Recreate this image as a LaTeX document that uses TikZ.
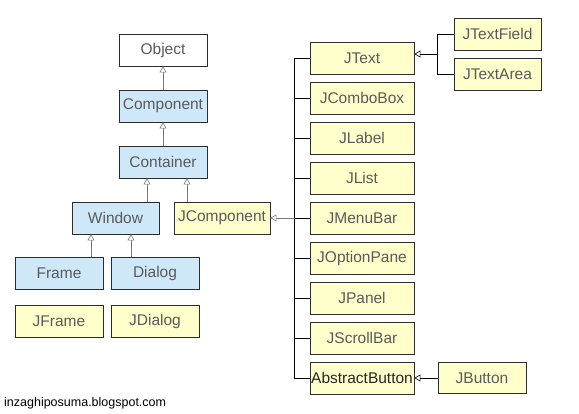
\documentclass[tikz,border=0pt]{standalone}
\usepackage{fontspec}
\setmainfont{Liberation Sans}
\usetikzlibrary{arrows.meta,calc}
\definecolor{bluefill}{RGB}{206,232,250}
\definecolor{yelfill}{RGB}{255,255,204}
\definecolor{boxline}{RGB}{45,45,45}
\definecolor{txt}{RGB}{90,90,90}
\definecolor{conn}{RGB}{120,120,120}
\begin{document}
\begin{tikzpicture}[x=1pt,y=-1pt,
  cls/.style={draw=boxline, line width=0.9pt, inner sep=0pt, minimum height=32pt,
    text=txt, font=\fontsize{15.5}{18}\selectfont},
  plainbox/.style={cls, fill=white, minimum width=88pt},
  awtbox/.style={cls, fill=bluefill},
  swingbox/.style={cls, fill=yelfill},
  inh/.style={-{Triangle[open, length=6pt, width=7pt, line width=0.6pt]}, line width=0.9pt},
  treeline/.style={draw=conn, line width=0.9pt},
  trunkline/.style={draw=black, line width=0.9pt}]
\useasboundingbox (0,0) rectangle (579,414);
\fill[white] (0,0) rectangle (579,414);

% left AWT tree
\node[plainbox] (obj) at (163,50) {Object};
\node[awtbox, minimum width=88pt] (comp) at (163,106) {Component};
\node[awtbox, minimum width=88pt] (cont) at (163,162) {Container};
\node[awtbox, minimum width=87pt] (window) at (115.5,218) {Window};
\node[swingbox, minimum width=96pt] (jcomp) at (222,218) {JComponent};
\node[awtbox, minimum width=88pt] (frame) at (59,273) {Frame};
\node[awtbox, minimum width=88pt] (dialog) at (155,273) {Dialog};
\node[swingbox, minimum width=88pt] (jframe) at (59,321) {JFrame};
\node[swingbox, minimum width=88pt] (jdialog) at (155,321) {JDialog};

% right column
\node[swingbox, minimum width=104pt] (jtext) at (362,58) {JText};
\node[swingbox, minimum width=104pt] (jcombo) at (362,98) {JComboBox};
\node[swingbox, minimum width=104pt] (jlabel) at (362,138) {JLabel};
\node[swingbox, minimum width=104pt] (jlist) at (362,178) {JList};
\node[swingbox, minimum width=104pt] (jmenubar) at (362,218) {JMenuBar};
\node[swingbox, minimum width=104pt] (joption) at (362,258) {JOptionPane};
\node[swingbox, minimum width=104pt] (jpanel) at (362,298) {JPanel};
\node[swingbox, minimum width=104pt] (jscroll) at (362,338) {JScrollBar};
\node[swingbox, minimum width=104pt, text=black!85] (abutton) at (362,378) {AbstractButton};

\node[swingbox, minimum width=87pt] (jtextfield) at (497.5,34) {JTextField};
\node[swingbox, minimum width=87pt] (jtextarea) at (497.5,74) {JTextArea};
\node[swingbox, minimum width=88pt, minimum height=31pt] (jbutton) at (482,378) {JButton};

\node[anchor=west, inner sep=0pt, font=\fontsize{12.5}{14}\selectfont] (credit) at (4,403) {inzaghiposuma.blogspot.com};

% AWT connectors
\draw[treeline, inh] (comp.north) -- (obj.south);
\draw[treeline, inh] (cont.north) -- (comp.south);
\draw[treeline, inh] ([xshift=-16pt]cont.south |- window.north) -- ([xshift=-16pt]cont.south);
\draw[treeline, inh] ([xshift=24pt]cont.south |- jcomp.north) -- ([xshift=24pt]cont.south);
\draw[treeline, inh] ([xshift=-24.5pt]window.south |- frame.north) -- ([xshift=-24.5pt]window.south);
\draw[treeline, inh] ([xshift=15.5pt]window.south |- dialog.north) -- ([xshift=15.5pt]window.south);

% Swing trunk
\coordinate (tk) at ($(jtext.west)+(-15,0)$);
\draw[trunkline] (jtext.west) -- (tk) |- (abutton.west);
\foreach \n in {jcombo,jlabel,jlist,jmenubar,joption,jpanel,jscroll}
  \draw[trunkline] (\n.west) -- (\n.west -| tk);
\draw[treeline, inh] (jmenubar.west -| tk) -- (jcomp.east);

% JText children
\coordinate (tt) at ($(jtextfield.west)+(-16,0)$);
\draw[trunkline] (jtextfield.west) -- (tt) |- (jtextarea.west);
\coordinate (tm) at ($(jtextfield.west)!0.5!(jtextarea.west)+(-16,0)$);
\draw[trunkline, inh] (tm) -- (tm -| jtext.east);

% JButton
\draw[trunkline, inh] (jbutton.west) -- (abutton.east);
\end{tikzpicture}
\end{document}
